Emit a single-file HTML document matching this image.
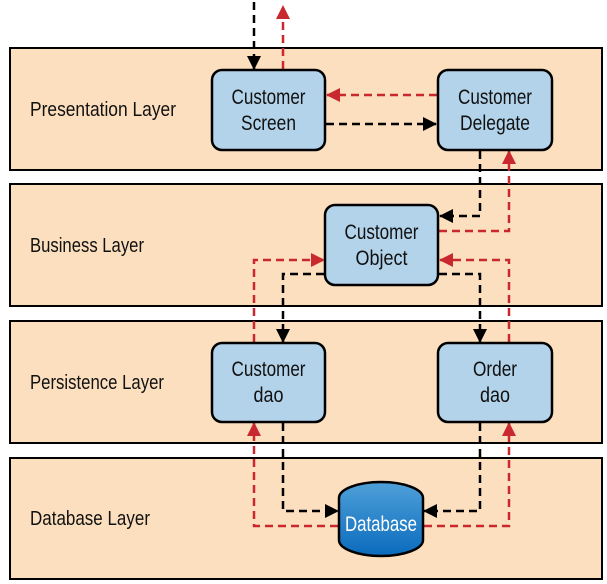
<!DOCTYPE html>
<html><head><meta charset="utf-8"><style>html,body{margin:0;padding:0;background:#fff}svg{display:block}</style></head>
<body>
<svg width="607" height="584" viewBox="0 0 607 584" xmlns="http://www.w3.org/2000/svg" font-family="Liberation Sans, sans-serif">
<defs>
<marker id="ab" markerWidth="14" markerHeight="14" refX="13" refY="7" orient="auto" markerUnits="userSpaceOnUse"><path d="M0,0 L14,7 L0,14 z" fill="#000"/></marker>
<marker id="ar" markerWidth="14" markerHeight="14" refX="13" refY="7" orient="auto" markerUnits="userSpaceOnUse"><path d="M0,0 L14,7 L0,14 z" fill="#c8282e"/></marker>
<linearGradient id="db" x1="0" y1="0" x2="0" y2="1"><stop offset="0" stop-color="#4fa0d8"/><stop offset="1" stop-color="#0a6bbd"/></linearGradient>
</defs>
<g fill="#fcdfbe" stroke="#000" stroke-width="2">
<rect x="10" y="48" width="592" height="122"/>
<rect x="10" y="184" width="592" height="122"/>
<rect x="10" y="321" width="592" height="122"/>
<rect x="10" y="458" width="592" height="121"/>
</g>
<g font-size="20" fill="#111">
<text x="30" y="116" textLength="146" lengthAdjust="spacingAndGlyphs">Presentation Layer</text>
<text x="30" y="252" textLength="114" lengthAdjust="spacingAndGlyphs">Business Layer</text>
<text x="30" y="389" textLength="134" lengthAdjust="spacingAndGlyphs">Persistence Layer</text>
<text x="30" y="525" textLength="120" lengthAdjust="spacingAndGlyphs">Database Layer</text>
</g>
<g fill="none" stroke-width="2.5" stroke-dasharray="8,5">
<g stroke="#000" marker-end="url(#ab)">
<path d="M254 2 V69"/>
<path d="M326 124 H436"/>
<path d="M480 151 V216 H440"/>
<path d="M324 274 H283 V342"/>
<path d="M439 274 H480 V342"/>
<path d="M283 423 V511 H338"/>
<path d="M480 423 V511 H424"/>
</g>
<g stroke="#c8282e" marker-end="url(#ar)">
<path d="M283 69 V6"/>
<path d="M437 95 H327"/>
<path d="M439 231 H509 V151"/>
<path d="M254 342 V260 H324"/>
<path d="M509 342 V260 H440"/>
<path d="M338 526 H254 V423"/>
<path d="M424 526 H509 V423"/>
</g>
</g>
<g fill="#b3d3ea" stroke="#000" stroke-width="2.5">
<rect x="212" y="70" width="113" height="80" rx="10"/>
<rect x="438" y="70" width="114" height="80" rx="10"/>
<rect x="325" y="205" width="113" height="80" rx="10"/>
<rect x="212" y="343" width="113" height="79" rx="10"/>
<rect x="438" y="343" width="114" height="79" rx="10"/>
</g>
<path d="M339 498 A42 16 0 0 1 423 498 V540 A42 16 0 0 1 339 540 Z" fill="url(#db)" stroke="#000" stroke-width="2.5"/>
<g font-size="21" fill="#111" text-anchor="middle">
<text x="268.5" y="104" textLength="74" lengthAdjust="spacingAndGlyphs">Customer</text>
<text x="268.5" y="130" textLength="55" lengthAdjust="spacingAndGlyphs">Screen</text>
<text x="495" y="104" textLength="74" lengthAdjust="spacingAndGlyphs">Customer</text>
<text x="495" y="130" textLength="70" lengthAdjust="spacingAndGlyphs">Delegate</text>
<text x="381.5" y="239" textLength="74" lengthAdjust="spacingAndGlyphs">Customer</text>
<text x="381.5" y="265" textLength="52" lengthAdjust="spacingAndGlyphs">Object</text>
<text x="268.5" y="376" textLength="74" lengthAdjust="spacingAndGlyphs">Customer</text>
<text x="268.5" y="402" textLength="30" lengthAdjust="spacingAndGlyphs">dao</text>
<text x="495" y="376" textLength="44" lengthAdjust="spacingAndGlyphs">Order</text>
<text x="495" y="402" textLength="30" lengthAdjust="spacingAndGlyphs">dao</text>
<text x="381" y="531" fill="#fff" textLength="72" lengthAdjust="spacingAndGlyphs">Database</text>
</g>
</svg>
</body></html>
